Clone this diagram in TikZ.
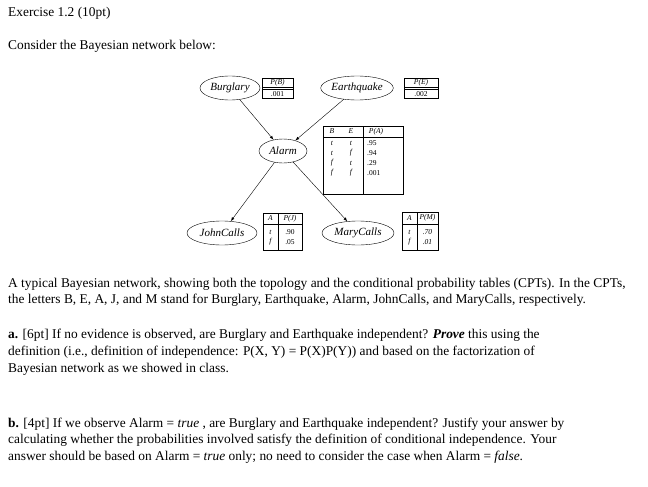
\documentclass[tikz,border=0pt]{standalone}
\usepackage{fontspec}
\setmainfont{Liberation Serif}
\usetikzlibrary{arrows,positioning,shapes}
\begin{document}
\begin{tikzpicture}[x=1pt,y=-1pt]
	\tikzstyle{Var} = [ellipse, draw, thin, inner sep=0pt, minimum height=24pt, font=\fontsize{11}{12}\selectfont\itshape]
	\tikzstyle{Line} = [anchor=base west, inner sep=0pt, font=\fontsize{13.4}{15}\selectfont]
	\tikzstyle{Cell} = [inner sep=0pt, font=\fontsize{7.5}{8}\selectfont]
	\tikzstyle{Edge} = [-latex, thin]
	\useasboundingbox (0,0) rectangle (648,487);

	\node (title) at (8,17) [Line] {Exercise 1.2 (10pt)};
	\node (intro) at (8,50) [Line] {Consider the Bayesian network below:};

	\node (b) at (230,88) [Var, minimum width=60pt] {Burglary};
	\node (e) at (357,88) [Var, minimum width=72pt] {Earthquake};
	\node (a) at (283,151) [Var, minimum width=48pt] {Alarm};
	\node (j) at (222,233) [Var, minimum width=70pt] {JohnCalls};
	\node (m) at (358,233) [Var, minimum width=72pt] {MaryCalls};

	\draw [Edge] (b) to (a);
	\draw [Edge] (e) to (a);
	\draw [Edge] (a) to (j);
	\draw [Edge] (a) to (m);

	% P(B)
	\draw [thin] (262,78) rectangle (293,98);
	\draw [thin] (262,87.5) -- (293,87.5) (262,89) -- (293,89);
	\node (pb) at (277.5,83) [Cell] {\itshape P(B)};
	\node (pbv) at (277.5,94) [Cell] {.001};
	% P(E)
	\draw [thin] (404,78) rectangle (438,98);
	\draw [thin] (404,87.5) -- (438,87.5) (404,89) -- (438,89);
	\node (pe) at (421,83) [Cell] {\itshape P(E)};
	\node (pev) at (421,94) [Cell] {.002};
	% P(A)
	\draw [thin] (323,126) rectangle (403,194) (323,137) -- (403,137) (363,126) -- (363,194);
	\node (ah1) at (332,131.5) [Cell] {\itshape B};
	\node (ah2) at (351,131.5) [Cell] {\itshape E};
	\node (ah3) at (376,131.5) [Cell] {\itshape P(A)};
	\foreach \bv/\ev/\pv [count=\i] in {t/t/.95, t/f/.94, f/t/.29, f/f/.001} {
		\node (ab\i) at (332,133+10*\i) [Cell] {\itshape \bv};
		\node (ae\i) at (351,133+10*\i) [Cell] {\itshape \ev};
		\node (ap\i) at (374,133+10*\i) [Cell, anchor=west, xshift=-7pt] {\pv};
	}
	% P(J)
	\draw [thin] (263,213) rectangle (302,250) (263,224) -- (302,224) (278,213) -- (278,250);
	\node (jh1) at (270.5,218.5) [Cell] {\itshape A};
	\node (jh2) at (290,218.5) [Cell] {\itshape P(J)};
	\node (jt) at (270.5,232) [Cell] {\itshape t};
	\node (jf) at (270.5,242) [Cell] {\itshape f};
	\node (jtv) at (290,232) [Cell] {.90};
	\node (jfv) at (290,242) [Cell] {.05};
	% P(M)
	\draw [thin] (402,212) rectangle (438,250) (402,224) -- (438,224) (417,212) -- (417,250);
	\node (mh1) at (409.5,218) [Cell] {\itshape A};
	\node (mh2) at (427.5,218) [Cell] {\itshape P(M)};
	\node (mt) at (409.5,232) [Cell] {\itshape t};
	\node (mf) at (409.5,242) [Cell] {\itshape f};
	\node (mtv) at (427.5,232) [Cell] {\itshape .70};
	\node (mfv) at (427.5,242) [Cell] {\itshape .01};

	\node (c1) at (8,287) [Line] {A typical Bayesian network, showing both the topology and the conditional probability tables (CPTs). In the CPTs,};
	\node (c2) at (8,303) [Line] {the letters B, E, A, J, and M stand for Burglary, Earthquake, Alarm, JohnCalls, and MaryCalls, respectively.};

	\node (q1) at (8,338) [Line] {\textbf{a.} [6pt] If no evidence is observed, are Burglary and Earthquake independent? \textbf{\textit{Prove}} this using the};
	\node (q2) at (8,355) [Line] {definition (i.e., definition of independence: P(X, Y) = P(X)P(Y)) and based on the factorization of};
	\node (q3) at (8,372) [Line] {Bayesian network as we showed in class.};

	\node (r1) at (8,427) [Line] {\textbf{b.} [4pt] If we observe Alarm = \textit{true} , are Burglary and Earthquake independent? Justify your answer by};
	\node (r2) at (8,443) [Line] {calculating whether the probabilities involved satisfy the definition of conditional independence. Your};
	\node (r3) at (8,460) [Line] {answer should be based on Alarm = \textit{true} only; no need to consider the case when Alarm = \textit{false}.};
\end{tikzpicture}
\end{document}
